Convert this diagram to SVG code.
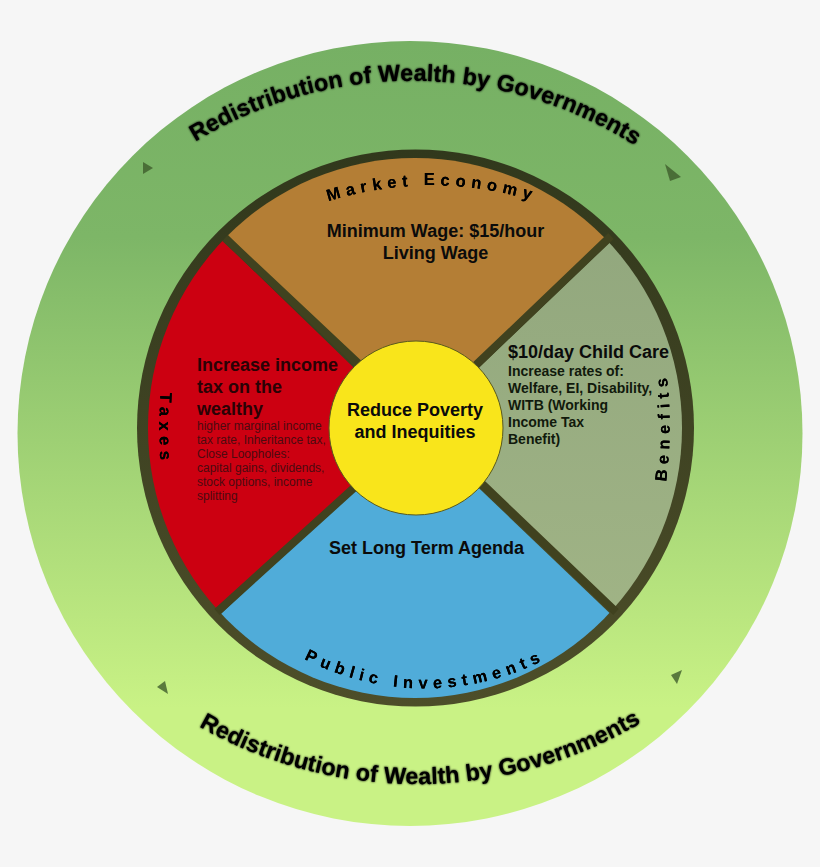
<svg xmlns="http://www.w3.org/2000/svg" width="820" height="867" viewBox="0 0 820 867">
<style>
text{font-family:"Liberation Sans",Arial,sans-serif;fill:#0b0b0b}
.b{font-weight:bold;font-size:18px;text-anchor:middle}
.h{font-weight:bold;font-size:18px}
.ring{font-weight:bold;font-size:23.500px;text-anchor:middle;fill:#000}
.lab{font-weight:bold;font-size:16.500px;letter-spacing:5.6px;text-anchor:middle;fill:#000}
.sm{font-size:12px;fill:#4d0a10}
.ben{font-weight:bold;font-size:14px;fill:#111a0c}
.red{fill:#2a0205}
.tri{fill:#3f5c2c;fill-opacity:.8}
.div{stroke:#40421f;stroke-width:8;fill:none}
</style>
<defs>
<linearGradient id="g" x1="0" y1="0" x2="0" y2="1"><stop offset="0" stop-color="#76b064"/><stop offset=".25" stop-color="#7db667"/><stop offset=".85" stop-color="#c9f285"/><stop offset="1" stop-color="#c9f285"/></linearGradient>
<linearGradient id="rg" x1="0" y1="0" x2="0" y2="1"><stop offset="0" stop-color="#31381c"/><stop offset="1" stop-color="#4d4e29"/></linearGradient>
<linearGradient id="sg" x1="0" y1="0" x2="0" y2="1"><stop offset="0" stop-color="#8fa57c"/><stop offset="1" stop-color="#a3b687"/></linearGradient>
<filter id="blur" x="-5%" y="-20%" width="110%" height="140%"><feGaussianBlur in="SourceGraphic" stdDeviation="1.3" result="s"/><feMerge><feMergeNode in="s"/><feMergeNode in="SourceGraphic"/></feMerge></filter>
<filter id="blur2" x="-20%" y="-20%" width="140%" height="140%"><feGaussianBlur in="SourceGraphic" stdDeviation=".7" result="s"/><feMerge><feMergeNode in="s"/><feMergeNode in="SourceGraphic"/></feMerge></filter>
<clipPath id="inner"><ellipse cx="415" cy="428" rx="267" ry="270"/></clipPath>
<path id="pTop" d="M178 153A416 416 0 0 1 652 157"/>
<path id="pBot" d="M188 720A440 440 0 0 0 652 716"/>
<path id="pMk" d="M312 207A345 345 0 0 1 552 207"/>
<path id="pPub" d="M290 651A262 262 0 0 0 560 651"/>
<path id="pTax" d="M162 374A600 600 0 0 0 162 484"/>
<path id="pBen" d="M664 497A420 420 0 0 0 664 357"/>
</defs>
<rect width="820" height="867" fill="#f6f6f6"/>
<g id="outer-ring">
<circle cx="410" cy="433.500" r="392.500" fill="url(#g)"/>
<text class="ring" filter="url(#blur)"><textPath href="#pTop" startOffset="50%">Redistribution of Wealth by Governments</textPath></text>
<text class="ring" filter="url(#blur)"><textPath href="#pBot" startOffset="50%">Redistribution of Wealth by Governments</textPath></text>
<path class="tri" d="M143 162L153 168L143 174Z"/>
<path class="tri" d="M665 164L681 177L670 181Z"/>
<path class="tri" d="M157 687L165 681L168 694Z"/>
<path class="tri" d="M671 675L682 670L677 684Z"/>
</g>
<g id="wheel-rim"><circle cx="415.500" cy="428" r="278.500" fill="url(#rg)"/></g>
<g id="market-economy">
<path clip-path="url(#inner)" fill="#b47e35" d="M100 104L730 112L416 428Z"/>
<text class="lab" filter="url(#blur2)"><textPath href="#pMk" startOffset="50%">Market Economy</textPath></text>
<text class="b" x="435.500" y="236.500">Minimum Wage: $15/hour</text>
<text class="b" x="435.500" y="258.500">Living Wage</text>
</g>
<g id="taxes">
<path clip-path="url(#inner)" fill="#cc0011" d="M222 240L120 140L120 700L218 607L416 428Z"/>
<text class="lab" filter="url(#blur2)"><textPath href="#pTax" startOffset="50%">Taxes</textPath></text>
<text class="h red" x="197" y="371">Increase income</text>
<text class="h red" x="197" y="393">tax on the</text>
<text class="h red" x="197" y="415">wealthy</text>
<text class="sm" x="197" y="430">higher marginal income</text>
<text class="sm" x="197" y="444">tax rate, Inheritance tax,</text>
<text class="sm" x="197" y="458">Close Loopholes:</text>
<text class="sm" x="197" y="472">capital gains, dividends,</text>
<text class="sm" x="197" y="486">stock options, income</text>
<text class="sm" x="197" y="500">splitting</text>
</g>
<g id="benefits">
<path clip-path="url(#inner)" fill="url(#sg)" d="M614 238L710 150L710 700L616 608L416 428Z"/>
<text class="lab" filter="url(#blur2)"><textPath href="#pBen" startOffset="50%">Benefits</textPath></text>
<text class="h" x="508" y="358">$10/day Child Care</text>
<text class="ben" x="508" y="376">Increase rates of:</text>
<text class="ben" x="508" y="393">Welfare, EI, Disability,</text>
<text class="ben" x="508" y="410">WITB (Working</text>
<text class="ben" x="508" y="427">Income Tax</text>
<text class="ben" x="508" y="444">Benefit)</text>
</g>
<g id="public-investments">
<path clip-path="url(#inner)" fill="#50acd9" d="M100 729L730 728L416 428Z"/>
<text class="lab" filter="url(#blur2)"><textPath href="#pPub" startOffset="50%">Public Investments</textPath></text>
<text class="b" x="426.500" y="553.500">Set Long Term Agenda</text>
</g>
<g id="connectors">
<path class="div" d="M225 238L360 365M611 236L476 365M217 612L356 486M616 612L478 480"/>
</g>
<g id="center">
<circle cx="416" cy="428" r="87" fill="#f9e51b" stroke="#5a5a1c" stroke-width="1"/>
<text class="b" x="415" y="415.500">Reduce Poverty</text>
<text class="b" x="415" y="437.500">and Inequities</text>
</g>
</svg>
